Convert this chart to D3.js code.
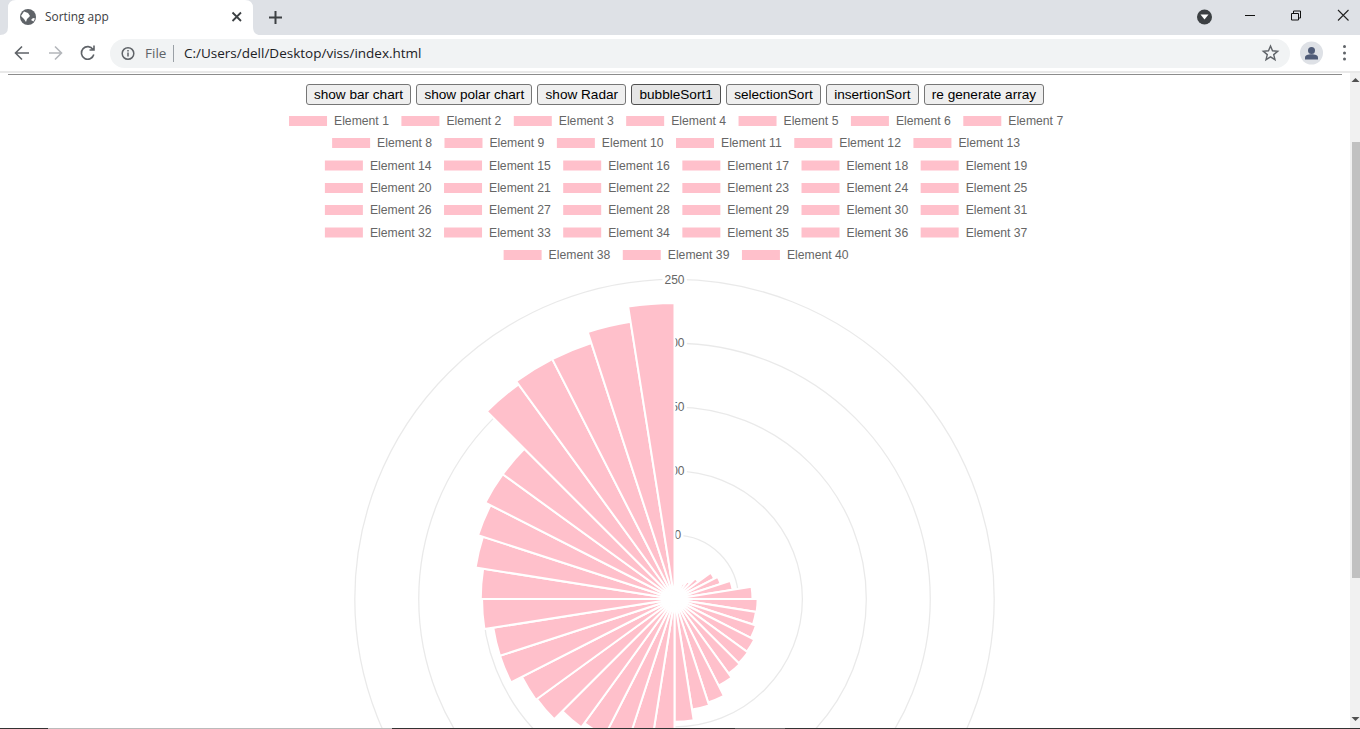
<!DOCTYPE html>
<html>
<head>
<meta charset="utf-8">
<title>Sorting app</title>
<script src="https://cdn.jsdelivr.net/npm/d3@7"></script>
<style>
html,body{margin:0;padding:0;width:1360px;height:729px;overflow:hidden;background:#fff}
svg{position:absolute;left:0;top:0}
#buttons{position:absolute;left:0;top:84px;width:1350px;display:flex;justify-content:center;gap:5px}
#buttons button{height:21px;margin:0;padding:0 7.2px 1px;box-sizing:border-box;font:13.6px "Liberation Sans",Arial,sans-serif;color:#000;background:#efefef;border:1px solid #767676;border-radius:3px;white-space:nowrap}
#buttons button.active{background:#e5e5e5;border-color:#4f4f4f}
</style>
</head>
<body>
<svg id="page" width="1360" height="729"></svg>
<div id="buttons"></div>
<script>
const categories = ["Element 1","Element 2","Element 3","Element 4","Element 5","Element 6","Element 7","Element 8","Element 9","Element 10","Element 11","Element 12","Element 13","Element 14","Element 15","Element 16","Element 17","Element 18","Element 19","Element 20","Element 21","Element 22","Element 23","Element 24","Element 25","Element 26","Element 27","Element 28","Element 29","Element 30","Element 31","Element 32","Element 33","Element 34","Element 35","Element 36","Element 37","Element 38","Element 39","Element 40"];
const values = [5,8,11,14,17,23,35,38,46,61,65,64.5,67,70,71,72,76,85,87.5,96,108,112,115,120,124,133,134,143.5,143.5,150.5,151.5,157.5,161.5,166,166,207.5,210.5,210.5,219.5,231.5];
const radialTicks = [50,100,150,200,250];
const buttonLabels = ["show bar chart","show polar chart","show Radar","bubbleSort1","selectionSort","insertionSort","re generate array"];
const activeButton = "bubbleSort1";
const legendRowCounts = [7,6,6,6,6,6,3];
const legendRowY = [121,143,165.5,188,210,232.5,255];
const tabTitle = "Sorting app";
const urlText = "C:/Users/dell/Desktop/viss/index.html";

const PINK = "rgb(255,192,203)";
const svg = d3.select("#page");
const cx = 674.5, cy = 599;

/* ---------- page content: chart ---------- */
const r = d3.scaleLinear().domain([0,250]).range([0,319.7]);
const angle = d3.scaleBand().domain(categories).range([0,2*Math.PI]);
const chart = svg.append("g").attr("transform",`translate(${cx},${cy})`);
chart.selectAll("circle.ring").data(radialTicks).join("circle")
  .attr("class","ring").attr("r",d=>r(d)).attr("fill","none").attr("stroke","rgba(0,0,0,0.085)").attr("stroke-width",1.3);
const tickG = chart.selectAll("g.tick").data(radialTicks).join("g").attr("class","tick")
  .attr("transform",d=>`translate(0,${-r(d)})`);
tickG.append("text").text(d=>d).attr("text-anchor","middle").attr("dy","0.35em")
  .attr("font-family","'Liberation Sans',Arial,sans-serif").attr("font-size",12).attr("fill","#666");
tickG.insert("rect","text").each(function(){
  const b=this.nextSibling.getBBox();
  d3.select(this).attr("x",b.x-2).attr("y",b.y-1).attr("width",b.width+4).attr("height",b.height+2).attr("fill","#fff");
});
const arc = d3.arc().innerRadius(0);
chart.selectAll("path.sector").data(categories).join("path").attr("class","sector")
  .attr("d",(c,i)=>arc({outerRadius:r(values[i]),startAngle:angle(c),endAngle:angle(c)+angle.bandwidth()}))
  .attr("fill",PINK).attr("stroke","#fff").attr("stroke-width",2);

/* ---------- legend ---------- */
const legend = svg.append("g").attr("font-family","'Liberation Sans',Arial,sans-serif").attr("font-size",12.2).attr("fill","#666");
const itemGap = 11.5;
let offset = 0;
legendRowCounts.forEach((n,row)=>{
  const names = categories.slice(offset,offset+n); offset += n;
  const g = legend.append("g");
  const items = g.selectAll("g").data(names).join("g");
  items.append("rect").attr("width",40).attr("height",12).attr("y",-6).attr("fill",PINK).attr("stroke","#fff").attr("stroke-width",2);
  items.append("text").text(d=>d).attr("x",46).attr("dy","0.35em");
  let x=0;
  items.each(function(){
    const w=d3.select(this).select("text").node().getComputedTextLength();
    d3.select(this).attr("transform",`translate(${x},0)`);
    x+=46+w+itemGap;
  });
  g.attr("transform",`translate(${675.6-(x-itemGap)/2},${legendRowY[row]})`);
});

/* ---------- buttons ---------- */
d3.select("#buttons").selectAll("button").data(buttonLabels).join("button")
  .text(d=>d).classed("active",d=>d===activeButton);

/* ---------- browser frame ---------- */
const ui = svg.append("g").attr("font-family","'Open Sans','Noto Sans',sans-serif");
ui.append("rect").attr("width",1360).attr("height",35).attr("fill","#dee1e6");
ui.append("rect").attr("y",35).attr("width",1360).attr("height",37).attr("fill","#fff");
ui.append("rect").attr("y",71.5).attr("width",1360).attr("height",1).attr("fill","#d3d3d3");
ui.append("path").attr("d","M0 35Q8 35 8 27V8Q8 0 16 0H245Q253 0 253 8V27Q253 35 261 35Z").attr("fill","#fff");
ui.append("circle").attr("cx",28).attr("cy",17).attr("r",8).attr("fill","#5f6368");
ui.append("path").attr("d","M24 11.5l4 1.5 2 3-3 3-1 3-2-3-3-3zM31 20l2-2 2 .5-1.5 3z").attr("fill","#fff");
ui.append("text").text(tabTitle).attr("x",45).attr("y",21).attr("font-size",11.9).attr("fill","#3c4043");
ui.append("path").attr("d","M232.5 12.5l8.5 8.5M241 12.5l-8.5 8.5").attr("stroke","#3c4043").attr("stroke-width",1.8);
ui.append("path").attr("d","M275.5 11v13M269 17.5h13").attr("stroke","#3c4043").attr("stroke-width",2);
// window controls
ui.append("circle").attr("cx",1204.5).attr("cy",17).attr("r",7.5).attr("fill","#3c4043");
ui.append("path").attr("d","M1200.5 14.5h8l-4 5z").attr("fill","#fff");
ui.append("path").attr("d","M1245 15.5h10").attr("stroke","#111");
ui.append("path").attr("d","M1291.5 13.5h7v6.5h-7zM1293.5 13.5v-2.5h7v7h-2").attr("fill","none").attr("stroke","#111");
ui.append("path").attr("d","M1338 10l10.500 10.500M1348.500 10l-10.500 10.500").attr("stroke","#222").attr("stroke-width",1.1);
// toolbar
ui.append("path").attr("d","M29 53H16M22 46.5l-6.5 6.5 6.5 6.5").attr("fill","none").attr("stroke","#5f6368").attr("stroke-width",1.6);
ui.append("path").attr("d","M62 53H49M55 46.5l6.5 6.5-6.5 6.5").attr("fill","none").attr("stroke","#b4b7bb").attr("stroke-width",1.6);
ui.append("path").attr("d","M93 49.500a6.300 6.300 0 1 0 .8 5M94 45.500v4.500h-4.500").attr("fill","none").attr("stroke","#5f6368").attr("stroke-width",1.6);
ui.append("rect").attr("x",110).attr("y",39).attr("width",1180).attr("height",29).attr("rx",14.5).attr("fill","#f1f3f4");
ui.append("circle").attr("cx",128).attr("cy",53.500).attr("r",5.800).attr("fill","none").attr("stroke","#5f6368").attr("stroke-width",1.500);
ui.append("path").attr("d","M128 50v1.500M128 52.500v4").attr("stroke","#5f6368").attr("stroke-width",1.500);
ui.append("text").text("File").attr("x",145).attr("y",58).attr("font-size",13.5).attr("fill","#5f6368");
ui.append("path").attr("d","M173.500 45v17").attr("stroke","#9aa0a6");
ui.append("text").text(urlText).attr("x",184).attr("y",58).attr("font-size",13.5).attr("fill","#202124");
ui.append("path").attr("d","M1270.500 46l2 4.800 5.200.400-4 3.400 1.300 5.100-4.500-2.800-4.500 2.800 1.300-5.100-4-3.400 5.200-.400z").attr("fill","none").attr("stroke","#5f6368").attr("stroke-width",1.400);
ui.append("circle").attr("cx",1311.500).attr("cy",53).attr("r",11.500).attr("fill","#dee1e6");
ui.append("circle").attr("cx",1311.500).attr("cy",50.500).attr("r",3.500).attr("fill","#4f5b77");
ui.append("path").attr("d","M1305 59.500v-2c0-2 3-3.200 6.500-3.200s6.500 1.200 6.500 3.200v2z").attr("fill","#4f5b77");
ui.selectAll("circle.dot").data([46.500,53,59]).join("circle").attr("class","dot").attr("cx",1344.500).attr("cy",d=>d).attr("r",1.500).attr("fill","#5f6368");
// horizontal rule at the page top
ui.append("rect").attr("x",8).attr("y",74).attr("width",1334).attr("height",1).attr("fill","#8c8c8c");
// scrollbar
ui.append("rect").attr("x",1350).attr("y",73).attr("width",10).attr("height",656).attr("fill","#f1f1f1");
ui.append("rect").attr("x",1352).attr("y",142).attr("width",8).attr("height",436).attr("fill","#c1c1c1");
ui.append("path").attr("d","M1355.500 78l4 4h-8z").attr("fill","#505050");
ui.append("path").attr("d","M1355.500 721l-4-4h8z").attr("fill","#505050");
// taskbar sliver
const sliver = [[0,48,"#333"],[48,392,"#bbb"],[392,735,"#333"],[735,785,"#666"],[785,1360,"#333"]];
ui.selectAll("rect.sl").data(sliver).join("rect").attr("class","sl").attr("x",d=>d[0]).attr("y",728).attr("width",d=>d[1]-d[0]).attr("height",1).attr("fill",d=>d[2]);
</script>
</body>
</html>
